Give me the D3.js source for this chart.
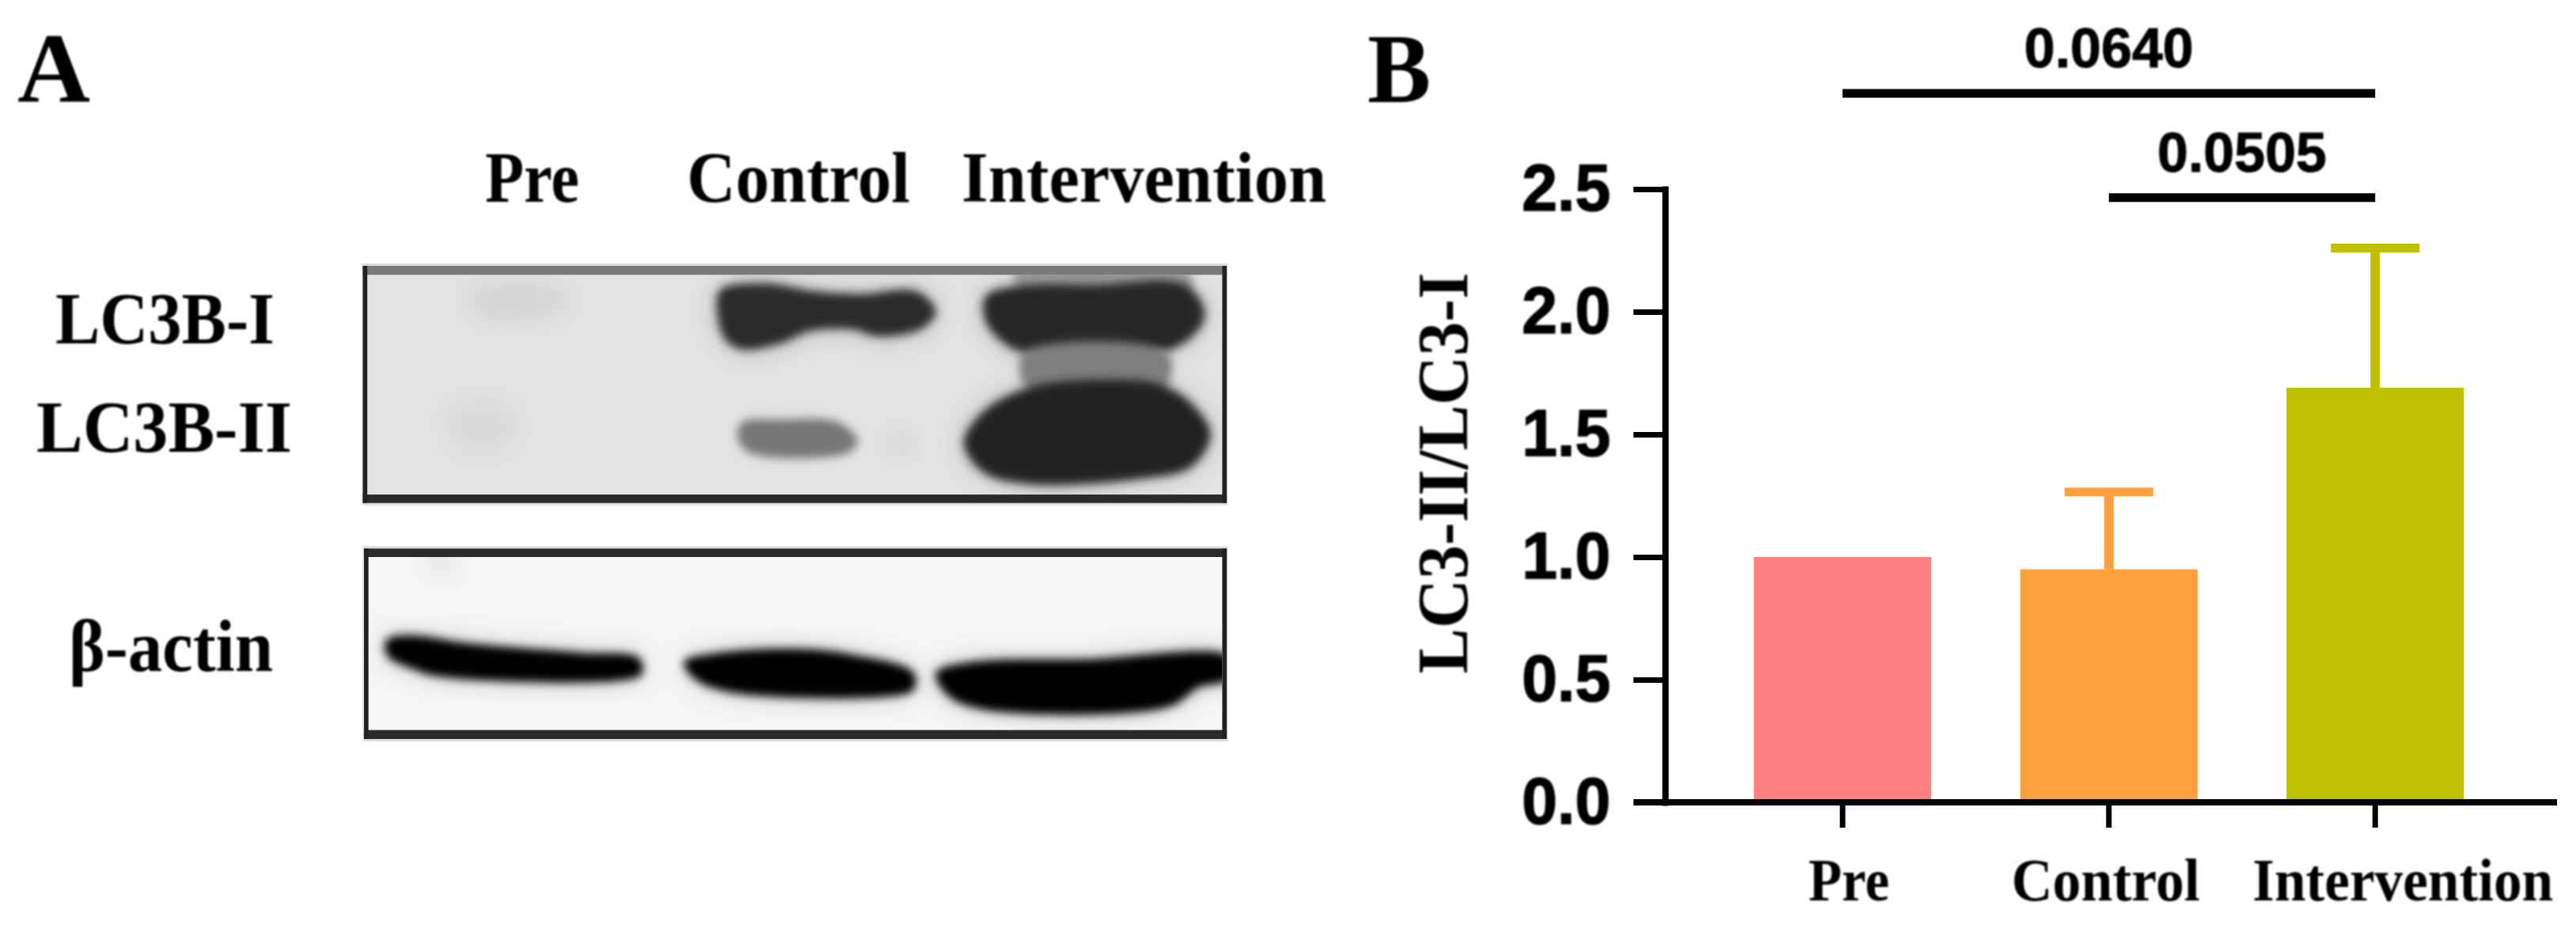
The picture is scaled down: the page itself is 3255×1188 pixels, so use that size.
<!DOCTYPE html>
<html>
<head>
<meta charset="utf-8">
<script src="https://cdn.jsdelivr.net/npm/d3@7"></script>
<style>
  body { margin: 0; background: #fff; }
  svg { display: block; }
</style>
</head>
<body>
<svg id="chart" width="3255" height="1188"></svg>
<script>
// panel B values
var groups = ["Pre", "Control", "Intervention"];
var means = [1.0, 0.95, 1.69];
var errors = [0, 0.315, 0.57];
var barColors = ["#ff8080", "#ffa040", "#c0c000"];
var yTicks = [0, 0.5, 1, 1.5, 2, 2.5];
var sigLabels = ["0.0640", "0.0505"];
var sigFrom = ["Pre", "Control"];
var sigTo = ["Intervention", "Intervention"];
var sigLevels = [2.89, 2.465];

var upperBands = [
  [[1180, 30], [1480, 30], [1490, 110], [1180, 110]],
  [[650, 110], [730, 85], [820, 115], [900, 125], [1000, 115], [1035, 190], [1010, 255], [930, 285], [890, 260], [810, 265], [760, 310], [690, 335], [660, 300], [645, 200]],
  [[1125, 130], [1180, 95], [1320, 90], [1480, 90], [1515, 200], [1490, 290], [1420, 355], [1200, 355], [1140, 280], [1120, 200]],
  [[1190, 350], [1450, 350], [1440, 490], [1200, 490]],
  [[1200, 480], [1320, 450], [1440, 470], [1500, 560], [1525, 660], [1490, 780], [1400, 825], [1200, 845], [1120, 800], [1085, 690], [1120, 570]],
  [[690, 610], [760, 600], [860, 610], [895, 680], [880, 725], [700, 725], [680, 660]],
  [[950, 660], [990, 660], [990, 720], [950, 720]],
  [[200, 110], [360, 100], [380, 170], [240, 225], [205, 170]],
  [[165, 560], [270, 540], [280, 680], [190, 730]]
];
var upperShades = ["#9a9a9a", "#2a2a2a", "#262626", "#7f7f7f", "#222222", "#777777", "#d6d6d6", "#d4d4d4", "#dadada"];
var lowerBands = [
  [[130, 30], [170, 30], [170, 100], [140, 100]],
  [[55, 355], [100, 340], [200, 370], [400, 405], [505, 425], [510, 485], [470, 510], [150, 495], [100, 465], [55, 415]],
  [[585, 440], [650, 405], [780, 390], [880, 410], [995, 480], [995, 545], [950, 570], [670, 555], [605, 505]],
  [[1035, 480], [1100, 440], [1300, 430], [1560, 420], [1560, 505], [1505, 535], [1450, 610], [1120, 620], [1055, 565]]
];
var lowerShades = ["#e2e2e2", "#000000", "#000000", "#000000"];

var svg = d3.select("#chart");
var SERIF = "'Liberation Serif', serif";
var SANS = "'Liberation Sans', Arial, sans-serif";

var defs = svg.append("defs");
defs.append("filter").attr("id", "bandBlur")
  .attr("x", "-30%").attr("y", "-30%").attr("width", "160%").attr("height", "160%")
  .append("feGaussianBlur").attr("stdDeviation", 6);
defs.append("filter").attr("id", "faintBlur")
  .attr("x", "-60%").attr("y", "-60%").attr("width", "220%").attr("height", "220%")
  .append("feGaussianBlur").attr("stdDeviation", 13);
defs.append("filter").attr("id", "haloBlur")
  .attr("x", "-40%").attr("y", "-40%").attr("width", "180%").attr("height", "180%")
  .append("feGaussianBlur").attr("stdDeviation", 16);
defs.append("filter").attr("id", "soft")
  .append("feGaussianBlur").attr("stdDeviation", 1.1);

function label(g, txt, x, y, size, len, family) {
  return g.append("text")
    .attr("x", x).attr("y", y)
    .attr("font-family", family || SERIF)
    .attr("font-weight", "bold")
    .attr("font-size", size)
    .attr("textLength", len)
    .attr("lengthAdjust", "spacingAndGlyphs")
    .attr("fill", "#000")
    .text(txt);
}

// ---- panel A ----
var panelA = svg.append("g");
var textA = panelA.append("g").attr("filter", "url(#soft)");
label(textA, "A", 22, 128, 125, 92);
label(textA, "Pre", 613, 255, 90, 119);
label(textA, "Control", 868, 255, 90, 282);
label(textA, "Intervention", 1215, 255, 90, 461);
label(textA, "LC3B-I", 70, 434, 94, 277);
label(textA, "LC3B-II", 46, 571, 94, 323);
label(textA, "β-actin", 87, 848, 94, 258);

function drawBlot(id, sx, sy, frame, bands, shades) {
  var g = panelA.append("g");
  var blob = d3.line().x(d => sx(d[0])).y(d => sy(d[1])).curve(d3.curveCatmullRomClosed.alpha(0.5));
  var bx = sx(frame.x0), by = sy(frame.y0), bw = sx(frame.x1) - bx, bh = sy(frame.y1) - by;
  defs.append("clipPath").attr("id", id).append("rect")
    .attr("x", bx).attr("y", by).attr("width", bw).attr("height", bh);
  g.append("rect")
    .attr("x", bx - 7).attr("y", sy(frame.y0 - frame.top) - 3)
    .attr("width", bw + 14).attr("height", sy(frame.y1 + frame.bottom) - sy(frame.y0 - frame.top) + 6)
    .attr("fill", "#dcdcdc");
  g.append("rect")
    .attr("x", bx).attr("y", by).attr("width", bw).attr("height", bh)
    .attr("fill", frame.bg);
  var inner = g.append("g").attr("clip-path", "url(#" + id + ")");
  // soft halo under the dark bands, then the bands
  inner.selectAll("path.halo").data(bands.filter((b, i) => shades[i] < "#333333")).join("path")
    .attr("class", "halo").attr("d", blob).attr("fill", "#555").attr("opacity", 0.35).attr("filter", "url(#haloBlur)");
  inner.selectAll("path.band").data(bands).join("path")
    .attr("class", "band").attr("d", blob).attr("fill", (d, i) => shades[i])
    .attr("filter", (d, i) => shades[i] > "#c00000" ? "url(#faintBlur)" : "url(#bandBlur)");
  // frame strips
  var strips = [
    [frame.x0 - 8, frame.y0 - frame.top, frame.x1 + 8, frame.y0, frame.topColor],
    [frame.x0 - 8, frame.y1, frame.x1 + 8, frame.y1 + frame.bottom, frame.bottomColor],
    [frame.x0 - 8, frame.y0 - frame.top, frame.x0, frame.y1 + frame.bottom, "#222"],
    [frame.x1, frame.y0 - frame.top, frame.x1 + 8, frame.y1 + frame.bottom, "#222"]
  ];
  g.selectAll("rect.strip").data(strips).join("rect")
    .attr("class", "strip")
    .attr("x", d => sx(d[0])).attr("y", d => sy(d[1]))
    .attr("width", d => sx(d[2]) - sx(d[0])).attr("height", d => sy(d[3]) - sy(d[1]))
    .attr("fill", d => d[4]);
}

// blotScales: crop units of the zoomed blots -> page pixels
drawBlot("upperClip",
  d3.scaleLinear([0, 1568], [450, 1560]),
  d3.scaleLinear([0, 930], [330, 640]),
  {x0: 20, x1: 1546, y0: 52, y1: 885, top: 34, bottom: 32, bg: "#e3e3e3", topColor: "#7a7a7a", bottomColor: "#2c2c2c"},
  upperBands, upperShades
);
drawBlot("lowerClip",
  d3.scaleLinear([0, 1568], [450, 1560]),
  d3.scaleLinear([0, 750], [690, 940]),
  {x0: 22, x1: 1546, y0: 42, y1: 698, top: 32, bottom: 34, bg: "#f6f6f6", topColor: "#2a2a2a", bottomColor: "#2a2a2a"},
  lowerBands, lowerShades
);

// ---- panel B ----
var x = d3.scaleBand(groups, [2160, 3169.5]).paddingInner(0.334).paddingOuter(0.167);
var y = d3.scaleLinear([0, 2.5], [1014, 239]);
var panelB = svg.append("g");
var textB = panelB.append("g").attr("filter", "url(#soft)");
label(textB, "B", 1728, 129, 125, 80);

// error bars sit behind the bars
var errs = panelB.append("g").selectAll("g")
  .data(groups.map((g, i) => ({g: g, m: means[i], e: errors[i], c: barColors[i]})).filter(d => d.e > 0))
  .join("g")
  .attr("stroke", d => d.c);
errs.append("line")
  .attr("x1", d => x(d.g) + x.bandwidth() / 2).attr("x2", d => x(d.g) + x.bandwidth() / 2)
  .attr("y1", d => y(d.m)).attr("y2", d => y(d.m + d.e))
  .attr("stroke-width", 12);
errs.append("line")
  .attr("x1", d => x(d.g) + x.bandwidth() / 2 - 56).attr("x2", d => x(d.g) + x.bandwidth() / 2 + 56)
  .attr("y1", d => y(d.m + d.e)).attr("y2", d => y(d.m + d.e))
  .attr("stroke-width", 11);

panelB.append("g").selectAll("rect")
  .data(groups)
  .join("rect")
  .attr("x", d => x(d))
  .attr("y", (d, i) => y(means[i]))
  .attr("width", x.bandwidth())
  .attr("height", (d, i) => y(0) - y(means[i]))
  .attr("fill", (d, i) => barColors[i]);

var yAxis = panelB.append("g")
  .attr("transform", "translate(2104,0)")
  .call(d3.axisLeft(y).tickValues(yTicks).tickFormat(d3.format(".1f")).tickSize(40).tickSizeOuter(0).tickPadding(29));
yAxis.select(".domain").attr("stroke", "#000").attr("stroke-width", 8).attr("stroke-linecap", "square");
yAxis.selectAll(".tick line").attr("stroke", "#000").attr("stroke-width", 7);
yAxis.selectAll(".tick text")
  .attr("font-family", SANS).attr("font-weight", "bold").attr("font-size", 84)
  .attr("textLength", 112).attr("lengthAdjust", "spacingAndGlyphs")
  .attr("stroke", "#000").attr("stroke-width", 1.5)
  .attr("fill", "#000").attr("filter", "url(#soft)");

var xAxis = panelB.append("g")
  .attr("transform", "translate(0,1014)")
  .call(d3.axisBottom(x).tickSize(32).tickSizeOuter(0).tickPadding(30));
xAxis.select(".domain").remove();
xAxis.append("line").attr("x1", 2064).attr("x2", 3231).attr("stroke", "#000").attr("stroke-width", 8);
xAxis.selectAll(".tick line").attr("stroke", "#000").attr("stroke-width", 7);
var xLabelLen = [102, 238, 380];
var xLabelShift = [8, -4, 35];
xAxis.selectAll(".tick text")
  .attr("font-family", SERIF).attr("font-weight", "bold").attr("font-size", 76)
  .attr("fill", "#000").attr("filter", "url(#soft)")
  .attr("textLength", (d, i) => xLabelLen[i]).attr("lengthAdjust", "spacingAndGlyphs")
  .attr("dx", (d, i) => xLabelShift[i])
  .attr("dy", "0.82em");

label(textB, "LC3-II/LC3-I", 0, 0, 92, 507)
  .attr("text-anchor", "middle")
  .attr("transform", "translate(1854,598) rotate(-90)");

// significance brackets
var sig = panelB.append("g").selectAll("g").data(sigLabels).join("g");
sig.append("line")
  .attr("x1", (d, i) => x(sigFrom[i]) + x.bandwidth() / 2)
  .attr("x2", (d, i) => x(sigTo[i]) + x.bandwidth() / 2)
  .attr("y1", (d, i) => y(sigLevels[i])).attr("y2", (d, i) => y(sigLevels[i]))
  .attr("stroke", "#000").attr("stroke-width", 11);
sig.append("text")
  .attr("x", (d, i) => (x(sigFrom[i]) + x(sigTo[i]) + x.bandwidth()) / 2)
  .attr("y", (d, i) => y(sigLevels[i]) - 33)
  .attr("text-anchor", "middle")
  .attr("font-family", SANS).attr("font-weight", "bold").attr("font-size", 70)
  .attr("textLength", 214).attr("lengthAdjust", "spacingAndGlyphs")
  .attr("stroke", "#000").attr("stroke-width", 1)
  .attr("fill", "#000").attr("filter", "url(#soft)")
  .text(d => d);
</script>
</body>
</html>
